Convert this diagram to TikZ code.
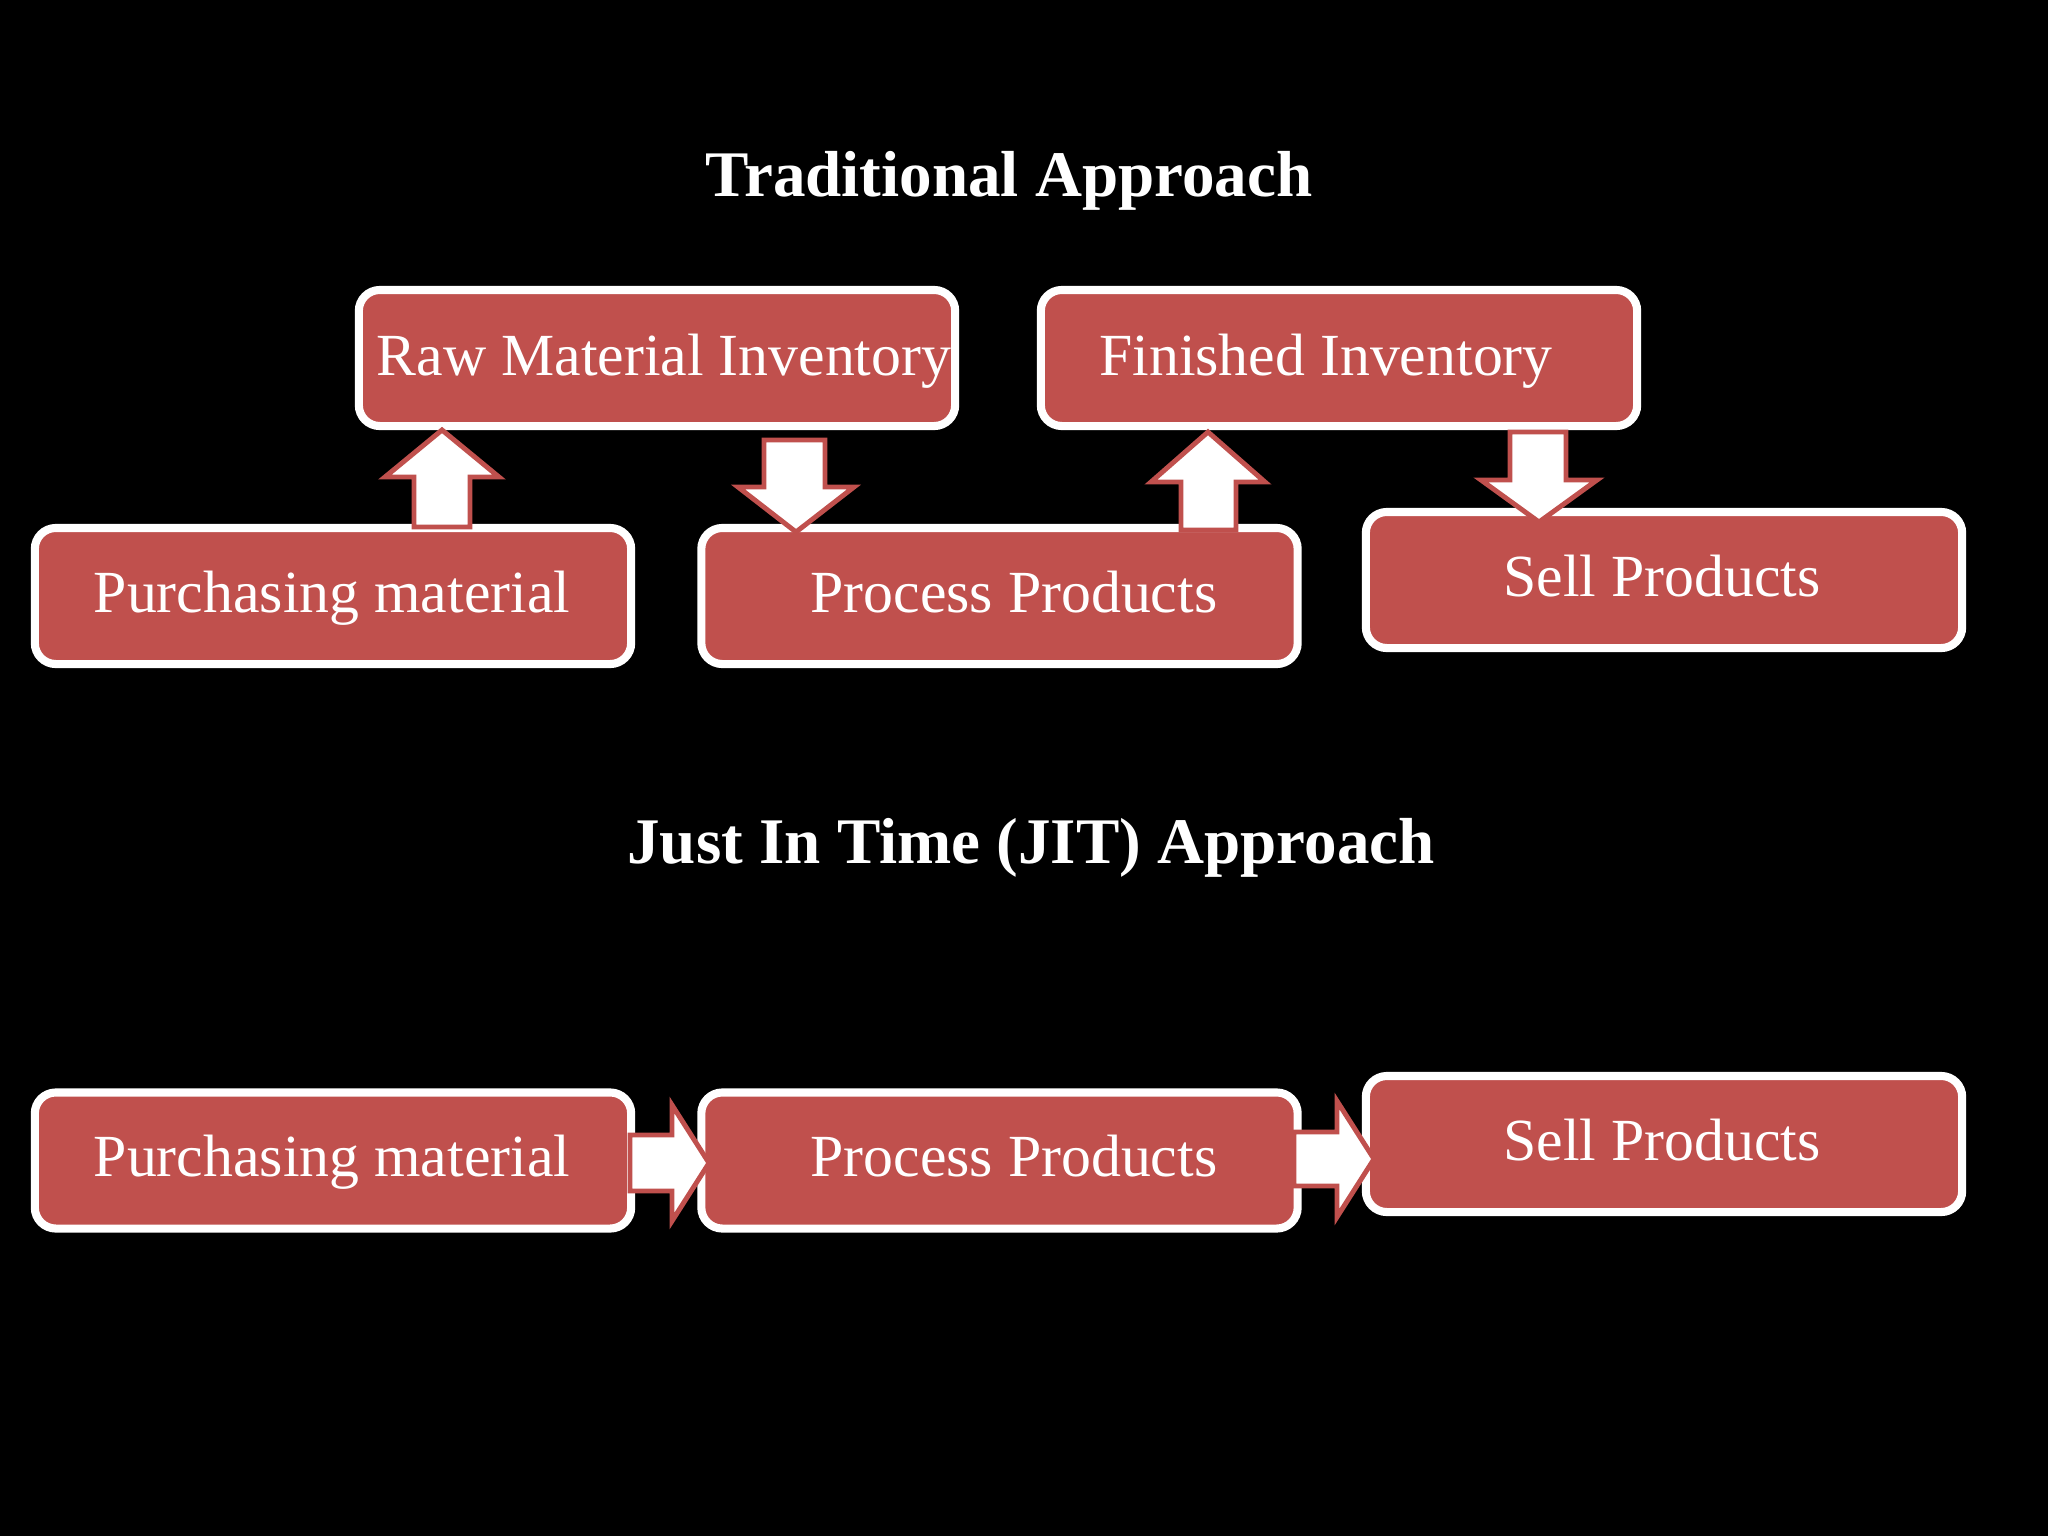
\documentclass[tikz,border=0pt]{standalone}
\usepackage{fontspec}
\setmainfont{Liberation Serif}
\definecolor{boxred}{HTML}{C0504D}
\tikzset{
  box/.style={draw=white, fill=boxred, line width=2.3pt, rounded corners=0.21cm,
    minimum width=5.96cm, minimum height=1.36cm, inner sep=0pt},
  boxtext/.style={text=white, anchor=base, inner sep=0pt, font=\fontsize{17}{20}\selectfont},
  titletext/.style={text=white, anchor=base, inner sep=0pt, font=\fontsize{18.5}{22}\selectfont\bfseries},
  barrow/.style={draw=boxred, fill=white, line width=1.4pt, line join=miter}
}
\begin{document}
\begin{tikzpicture}[x=0.01cm, y=-0.01cm]
\fill[black] (0,0) rectangle (2048,1536);
\useasboundingbox (0,0) rectangle (2048,1536);

% titles
\node[titletext] (t1) at (1009,196) {Traditional Approach};
\node[titletext] (t2) at (1031,863) {Just In Time (JIT) Approach};

% traditional boxes
\node[box] (raw) at (657,358) {};
\node[box] (fin) at (1339,358) {};
\node[box] (purT) at (333,596) {};
\node[box] (proT) at (999.5,596) {};
\node[box] (selT) at (1664,580) {};

\node[boxtext] (rawt) at (664,375) {Raw Material Inventory};
\node[boxtext] (fint) at (1326,375) {Finished Inventory};
\node[boxtext] (purTt) at (332,612) {Purchasing material};
\node[boxtext] (proTt) at (1014,612) {Process Products};
\node[boxtext] (selTt) at (1662,596) {Sell Products};

% JIT boxes
\node[box] (purJ) at (333,1160.5) {};
\node[box] (proJ) at (999.5,1160.5) {};
\node[box] (selJ) at (1664,1144) {};

\node[boxtext] (purJt) at (332,1176) {Purchasing material};
\node[boxtext] (proJt) at (1014,1176) {Process Products};
\node[boxtext] (selJt) at (1662,1160) {Sell Products};

% block arrows (traditional)
\draw[barrow] (414,527) -- (414,477) -- (385,477) -- (442,430) -- (499,477) -- (470,477) -- (470,527) -- cycle;
\draw[barrow] (764,440) -- (825,440) -- (825,487) -- (854,487) -- (796,532) -- (738,487) -- (764,487) -- cycle;
\draw[barrow] (1181,530) -- (1181,482) -- (1151,482) -- (1208,432) -- (1265,482) -- (1236,482) -- (1236,530) -- cycle;
\draw[barrow] (1510,432) -- (1566,432) -- (1566,480) -- (1597,480) -- (1539,522) -- (1481,480) -- (1510,480) -- cycle;

% block arrows (JIT)
\draw[barrow] (630,1135) -- (672,1135) -- (672,1105) -- (709,1163) -- (672,1221) -- (672,1191) -- (630,1191) -- cycle;
\draw[barrow] (1294,1132) -- (1337,1132) -- (1337,1101) -- (1374,1159) -- (1337,1217) -- (1337,1186) -- (1294,1186) -- cycle;
\end{tikzpicture}
\end{document}
